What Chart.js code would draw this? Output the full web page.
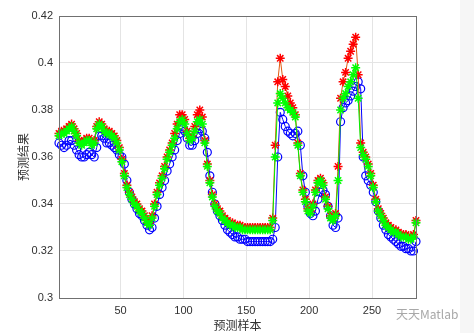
<!DOCTYPE html>
<html>
<head>
<meta charset="utf-8">
<script src="https://cdn.jsdelivr.net/npm/chart.js@4/dist/chart.umd.min.js"></script>
<style>
  html, body { margin: 0; padding: 0; background: #fff; }
  #wrap { position: relative; width: 474px; height: 333px; }
  #band { position: absolute; left: 460px; top: 0; width: 14px; height: 333px; background: #f6f6f6; }
  #mark { position: absolute; left: 396px; top: 305px; font: 12px "Noto Sans CJK SC", sans-serif; color: #a8a8a8; }
</style>
</head>
<body>
<div id="wrap">
  <div id="band"></div>
  <canvas id="chart" width="474" height="333"></canvas>
  <div id="mark">天天Matlab</div>
</div>
<script>
// 样本序号
const sampleX = [
  1, 3, 5, 7, 9, 11, 13, 15, 17, 19,
  21, 23, 25, 27, 29, 31, 33, 35, 37, 39,
  41, 43, 45, 47, 49, 51, 53, 55, 57, 59,
  61, 63, 65, 67, 69, 71, 73, 75, 77, 79,
  81, 83, 85, 87, 89, 91, 93, 95, 97, 99,
  101, 103, 105, 107, 109, 111, 113, 115, 117, 119,
  121, 123, 125, 127, 129, 131, 133, 135, 137, 139,
  141, 143, 145, 147, 149, 151, 153, 155, 157, 159,
  161, 163, 165, 167, 169, 171, 173, 175, 177, 179,
  181, 183, 185, 187, 189, 191, 193, 195, 197, 199,
  201, 203, 205, 207, 209, 211, 213, 215, 217, 219,
  221, 223, 225, 227, 229, 231, 233, 235, 237, 239,
  241, 243, 245, 247, 249, 251, 253, 255, 257, 259,
  261, 263, 265, 267, 269, 271, 273, 275, 277, 279,
  281, 283, 285];

// 蓝色 o
const trueVals = [
  0.366, 0.365, 0.364, 0.365, 0.367, 0.367, 0.365, 0.363, 0.361, 0.360,
  0.360, 0.361, 0.362, 0.361, 0.360, 0.364, 0.369, 0.369, 0.368, 0.366,
  0.366, 0.365, 0.364, 0.363, 0.361, 0.360, 0.357, 0.350, 0.345, 0.342,
  0.340, 0.338, 0.336, 0.335, 0.333, 0.331, 0.329, 0.330, 0.334, 0.339,
  0.344, 0.347, 0.350, 0.354, 0.357, 0.360, 0.363, 0.367, 0.370, 0.372,
  0.371, 0.368, 0.365, 0.365, 0.367, 0.370, 0.372, 0.371, 0.368, 0.362,
  0.352, 0.345, 0.340, 0.337, 0.335, 0.333, 0.331, 0.329, 0.328, 0.327,
  0.326, 0.326, 0.325, 0.325, 0.325, 0.324, 0.324, 0.324, 0.324, 0.324,
  0.324, 0.324, 0.324, 0.324, 0.324, 0.325, 0.330, 0.360, 0.379, 0.376,
  0.373, 0.371, 0.370, 0.369, 0.370, 0.371, 0.365, 0.352, 0.345, 0.339,
  0.336, 0.335, 0.337, 0.342, 0.345, 0.346, 0.344, 0.339, 0.335, 0.331,
  0.330, 0.334, 0.375, 0.381, 0.383, 0.384, 0.386, 0.388, 0.390, 0.392,
  0.389, 0.360, 0.352, 0.350, 0.348, 0.345, 0.341, 0.337, 0.334, 0.331,
  0.329, 0.327, 0.326, 0.325, 0.324, 0.323, 0.322, 0.322, 0.321, 0.321,
  0.320, 0.320, 0.324];

// 红色 *
const predRed = [
  0.370, 0.371, 0.371, 0.372, 0.373, 0.374, 0.372, 0.370, 0.367, 0.366,
  0.367, 0.368, 0.368, 0.366, 0.367, 0.373, 0.375, 0.374, 0.372, 0.371,
  0.371, 0.370, 0.369, 0.367, 0.364, 0.359, 0.353, 0.348, 0.345, 0.343,
  0.341, 0.340, 0.338, 0.337, 0.335, 0.333, 0.332, 0.335, 0.340, 0.345,
  0.349, 0.352, 0.356, 0.360, 0.363, 0.366, 0.370, 0.374, 0.378, 0.378,
  0.376, 0.371, 0.368, 0.369, 0.373, 0.378, 0.380, 0.377, 0.367, 0.357,
  0.350, 0.344, 0.340, 0.338, 0.337, 0.335, 0.334, 0.333, 0.332, 0.332,
  0.331, 0.331, 0.331, 0.330, 0.330, 0.330, 0.330, 0.330, 0.330, 0.330,
  0.330, 0.330, 0.330, 0.330, 0.330, 0.334, 0.365, 0.392, 0.402, 0.393,
  0.390, 0.386, 0.383, 0.381, 0.378, 0.366, 0.353, 0.346, 0.342, 0.338,
  0.337, 0.340, 0.346, 0.350, 0.351, 0.349, 0.343, 0.339, 0.335, 0.334,
  0.336, 0.356, 0.385, 0.392, 0.396, 0.402, 0.405, 0.408, 0.411, 0.395,
  0.366, 0.362, 0.360, 0.357, 0.353, 0.348, 0.342, 0.338, 0.336, 0.334,
  0.332, 0.331, 0.330, 0.329, 0.329, 0.328, 0.327, 0.327, 0.327, 0.326,
  0.326, 0.327, 0.333];

// 绿色 *
const predGreen = [
  0.369, 0.370, 0.370, 0.371, 0.372, 0.373, 0.371, 0.369, 0.366, 0.365,
  0.366, 0.367, 0.367, 0.365, 0.366, 0.372, 0.374, 0.373, 0.371, 0.370,
  0.370, 0.369, 0.368, 0.366, 0.363, 0.358, 0.352, 0.347, 0.344, 0.342,
  0.340, 0.339, 0.337, 0.336, 0.334, 0.332, 0.331, 0.334, 0.339, 0.344,
  0.348, 0.351, 0.355, 0.359, 0.362, 0.365, 0.368, 0.372, 0.375, 0.376,
  0.374, 0.370, 0.367, 0.368, 0.371, 0.375, 0.376, 0.374, 0.366, 0.356,
  0.349, 0.343, 0.339, 0.337, 0.336, 0.334, 0.333, 0.332, 0.331, 0.331,
  0.330, 0.330, 0.330, 0.329, 0.329, 0.329, 0.329, 0.329, 0.329, 0.329,
  0.329, 0.329, 0.329, 0.329, 0.329, 0.333, 0.360, 0.383, 0.387, 0.385,
  0.383, 0.381, 0.380, 0.379, 0.377, 0.365, 0.352, 0.345, 0.341, 0.337,
  0.336, 0.339, 0.345, 0.349, 0.350, 0.348, 0.342, 0.338, 0.334, 0.333,
  0.335, 0.350, 0.380, 0.385, 0.387, 0.390, 0.392, 0.395, 0.398, 0.385,
  0.364, 0.361, 0.359, 0.356, 0.352, 0.347, 0.341, 0.337, 0.335, 0.333,
  0.331, 0.330, 0.329, 0.328, 0.328, 0.327, 0.326, 0.326, 0.326, 0.325,
  0.325, 0.326, 0.332];

const xTicks = [50, 100, 150, 200, 250];
const yMin = 0.3, yMax = 0.42, yStep = 0.02;

function pts(vals) {
  return sampleX.map((x, i) => ({ x: x, y: vals[i] }));
}

// matlab 风格的外框
const boxPlugin = {
  id: 'box',
  afterDraw(chart) {
    const a = chart.chartArea;
    const ctx = chart.ctx;
    ctx.save();
    ctx.strokeStyle = '#707070';
    ctx.lineWidth = 1;
    ctx.strokeRect(Math.round(a.left) + 0.5, Math.round(a.top) + 0.5,
      Math.round(a.right - a.left), Math.round(a.bottom - a.top));
    ctx.restore();
  }
};

const tickFont = { family: '"Liberation Sans", Arial, sans-serif', size: 11 };
const titleFont = { family: '"Noto Sans CJK SC", sans-serif', size: 12 };

new Chart(document.getElementById('chart'), {
  type: 'line',
  data: {
    datasets: [
      {
        data: pts(predGreen),
        borderColor: '#00ee00',
        pointBorderColor: '#00ff00',
        pointStyle: 'star',
        pointRadius: 4.5,
        pointBorderWidth: 1.5,
        borderWidth: 1,
        tension: 0,
      },
      {
        data: pts(predRed),
        borderColor: '#e05a10',
        pointBorderColor: '#ff0000',
        pointStyle: 'star',
        pointRadius: 4.5,
        pointBorderWidth: 1.5,
        borderWidth: 1,
        tension: 0,
      },
      {
        data: pts(trueVals),
        borderColor: '#0000ff',
        pointBorderColor: '#0000ff',
        pointBackgroundColor: 'rgba(0,0,0,0)',
        pointStyle: 'circle',
        pointRadius: 4,
        pointBorderWidth: 1.2,
        borderWidth: 1,
        tension: 0,
      },
    ],
  },
  options: {
    responsive: false,
    animation: false,
    clip: false,
    layout: { padding: { top: 16, right: 58, left: 0, bottom: 0 } },
    plugins: {
      legend: { display: false },
      tooltip: { enabled: false },
    },
    scales: {
      x: {
        type: 'linear',
        min: 1,
        max: 285,
        afterBuildTicks: s => { s.ticks = xTicks.map(v => ({ value: v })); },
        afterFit: s => { s.height = 35; },
        grid: { color: '#e4e4e4', drawTicks: false },
        border: { display: false },
        ticks: { font: tickFont, color: '#303030', padding: 6, maxRotation: 0 },
        title: { display: true, text: '预测样本', font: titleFont, color: '#303030', padding: { top: 0, bottom: 0 } },
      },
      y: {
        min: yMin,
        max: yMax,
        ticks: {
          stepSize: yStep,
          font: tickFont,
          color: '#303030',
          padding: 6,
          callback: v => String(Number(v.toFixed(2))),
        },
        afterFit: s => { s.width = 59; },
        grid: { color: '#e4e4e4', drawTicks: false },
        border: { display: false },
        title: { display: true, text: '预测结果', font: titleFont, color: '#303030', padding: { top: 16, bottom: 0 } },
      },
    },
  },
  plugins: [boxPlugin],
});
</script>
</body>
</html>
